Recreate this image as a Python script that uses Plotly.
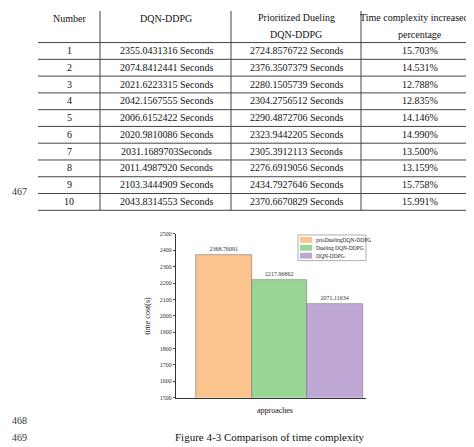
import plotly.graph_objects as go

numbers = [str(i) for i in range(1, 11)]
dqn = ["2355.0431316 Seconds", "2074.8412441 Seconds", "2021.6223315 Seconds", "2042.1567555 Seconds",
       "2006.6152422 Seconds", "2020.9810086 Seconds", "2031.1689703Seconds", "2011.4987920 Seconds",
       "2103.3444909 Seconds", "2043.8314553 Seconds"]
prio = ["2724.8576722 Seconds", "2376.3507379 Seconds", "2280.1505739 Seconds", "2304.2756512 Seconds",
        "2290.4872706 Seconds", "2323.9442205 Seconds", "2305.3912113 Seconds", "2276.6919056 Seconds",
        "2434.7927646 Seconds", "2370.6670829 Seconds"]
pct = ["15.703%", "14.531%", "12.788%", "12.835%", "14.146%", "14.990%", "13.500%", "13.159%", "15.758%", "15.991%"]

series = ["prioDuelingDQN-DDPG", "Dueling DQN-DDPG", "DQN-DDPG"]
values = [2368.76091, 2217.96862, 2071.11634]
labels = ["2368.76091", "2217.96862", "2071.11634"]
colors = ["#FBC48F", "#99D594", "#BFA8D6"]

W, H = 474, 447
SERIF = "Liberation Serif"
fig = go.Figure()
for i, (s, v, c, lb) in enumerate(zip(series, values, colors, labels)):
    fig.add_trace(go.Bar(x=[i], y=[v], width=1, name=s, marker=dict(color=c, line=dict(color="#777", width=0.6)),
                         text=[lb], textposition="outside", textfont=dict(size=6, family=SERIF, color="#333"),
                         cliponaxis=False))

def px(x): return x / W
def py(y): return 1 - y / H

def txt(x, y, t, size=10, **kw):
    d = dict(x=px(x), y=py(y), text=t, showarrow=False, xref="paper", yref="paper",
             xanchor="center", yanchor="middle", font=dict(size=size, family=SERIF, color="#111"))
    d.update(kw)
    return d

shapes, ann = [], []
cols_x = [61, 158, 288, 412]
ann += [txt(61, 8, "Number"), txt(158, 8, "DQN-DDPG"), txt(288, 7, "Prioritized Dueling"),
        txt(288, 24, "DQN-DDPG"), txt(412, 7, "Time complexity increased by"), txt(412, 24, "percentage")]
for i in range(10):
    yy = 40 + i * 17
    for cx, t in zip(cols_x, [numbers[i], dqn[i], prio[i], pct[i]]):
        ann.append(txt(cx, yy, t))
for k in range(11):
    yy = 32 + k * 17
    shapes.append(dict(type="line", xref="paper", yref="paper", x0=px(30), x1=1, y0=py(yy), y1=py(yy),
                       line=dict(color="#444", width=1)))
for xv in [92, 223, 353]:
    shapes.append(dict(type="line", xref="paper", yref="paper", x0=px(xv), x1=px(xv), y0=py(0), y1=py(202),
                       line=dict(color="#444", width=1)))
for t, yy in [("467", 183), ("468", 415), ("469", 432), ("470", 445)]:
    ann.append(txt(2, yy, t, xanchor="left", font=dict(size=10, family=SERIF, color="#333")))
ann.append(txt(262, 432, "Figure 4-3 Comparison of time complexity", size=11))
ann.append(txt(267, 405, "approaches", size=8))
ann.append(txt(140, 309, "time cost(s)", size=8, textangle=-90))

# manual legend
shapes.append(dict(type="rect", xref="paper", yref="paper", x0=px(290), x1=px(358), y0=py(227), y1=py(253),
                   fillcolor="white", line=dict(color="#777", width=0.6), layer="above"))
for k, (s, c) in enumerate(zip(series, colors)):
    yc = 232 + k * 8
    shapes.append(dict(type="rect", xref="paper", yref="paper", x0=px(292), x1=px(304), y0=py(yc + 3),
                       y1=py(yc - 3), fillcolor=c, line=dict(width=0), layer="above"))
    ann.append(txt(306, yc, s, size=5.5, xanchor="left", font=dict(size=5.5, family=SERIF, color="#222")))

fig.update_layout(
    width=W, height=H, margin=dict(l=0, r=0, t=0, b=0), paper_bgcolor="white", plot_bgcolor="white",
    bargap=0, showlegend=False, shapes=shapes, annotations=ann,
    xaxis=dict(domain=[px(168), px(358)], range=[-0.857, 2.55], showticklabels=False, ticks="",
               showgrid=False, zeroline=False, showline=True, linecolor="#333", linewidth=1),
    yaxis=dict(domain=[py(392), py(226)], range=[1500, 2500], dtick=100, ticks="outside", ticklen=2,
               tickfont=dict(size=6, family=SERIF, color="#333"), showgrid=False, zeroline=False,
               showline=True, linecolor="#333", linewidth=1),
)
fig.write_html("out.html")
